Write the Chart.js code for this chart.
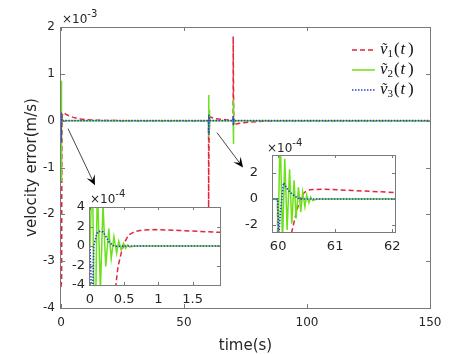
<!DOCTYPE html>
<html><head><meta charset="utf-8">
<script src="https://cdn.jsdelivr.net/npm/chart.js@4.4.0/dist/chart.umd.min.js"></script>
<style>
html,body{margin:0;padding:0;background:#fff;}
#wrap{position:relative;width:474px;height:355px;overflow:hidden;background:#fff;}
canvas{position:absolute;}
</style></head><body>
<div id="wrap">
<canvas id="main" width="474" height="355" style="left:0;top:0;width:474px;height:355px"></canvas>
<canvas id="in1" width="170" height="125" style="left:62px;top:185px;width:170px;height:125px"></canvas>
<canvas id="in2" width="167" height="122" style="left:238px;top:135px;width:167px;height:122px"></canvas>
</div>
<script>
// ---- data (velocity errors in units of 1e-4 m/s, time in s) ----
const v1T = [0,0.25,0.3,0.34,0.378,0.41,0.46,0.5,0.56,0.66,0.76,0.95,1.3,1.9,3,5,8,12,18,25,
  59.99,60.0,60.1,60.2,60.24,60.28,60.33,60.37,60.415,60.47,60.56,60.8,61.3,62.05,64,67,69.98,
  70.0,70.15,70.3,70.6,72,76,82,90,150];
const v1V = [-35.5,-34,-20,-9,-4,-2.1,-0.6,0.28,1.1,1.5,1.62,1.68,1.6,1.4,1.1,0.7,0.35,0.15,0.05,0,
  0,-18.5,-9,-3.5,-2.54,-1.77,-0.87,-0.23,0.28,0.54,0.72,0.76,0.66,0.5,0.35,0.2,0.1,
  18,4,-1,-0.8,-0.6,-0.35,-0.1,0,0];
const v2T = [0,0.035,0.07,0.107,0.152,0.19,0.23,0.275,0.31,0.35,0.39,0.42,0.456,0.49,0.52,0.55,0.58,0.65,
  59.99,60.0,60.035,60.076,60.117,60.158,60.2,60.24,60.28,60.315,60.357,60.398,60.43,60.47,60.5,60.54,60.57,60.61,60.68,
  69.99,70.03,70.07,70.11,70.15,70.2,70.25,70.35,70.5,150];
const v2V = [0,8.5,-13,6.5,-4.6,4.3,-2.1,1.8,-1.3,0.95,-0.75,0.5,-0.4,0.28,-0.25,0.1,-0.1,0,
  0,-3,5.5,-3.5,3.1,-2.4,2.3,-1.9,1.45,-1.5,0.9,-1.0,0.55,-0.6,0.3,-0.3,0.15,-0.12,0,
  0,4.5,-5,2.5,-2,1,-0.8,0.2,0,0];
const v3T = [0,0.02,0.04,0.055,0.1,0.13,0.19,0.23,0.28,0.34,0.4,0.5,
  59.99,60.01,60.04,60.093,60.18,60.27,60.35,60.45,
  69.99,70.02,70.06,70.12,70.3,150];
const v3V = [0,-4.5,-4.5,0,1.3,1.5,1.45,1.0,0.4,0.05,-0.05,0,
  0,-3,-1,1.25,0.65,0.3,0.05,0,
  0,1,-1,0.5,0,0];

const mainXTicks = [0,50,100,150];
const mainYTicks = [-4,-3,-2,-1,0,1,2];
const in1XTicks = [0,0.5,1,1.5];
const in1YTicks = [-4,-2,0,2,4];
const in2XTicks = [60,61,62];
const in2YTicks = [-2,0,2];
const legendSubs = ['1','2','3'];
const arrowFrom = [[2.85,-0.17],[63.4,-0.255]];
const arrowTo = [[13.8,-1.38],[74,-1.0]];

// ---- styles ----
const RED = '#e5243b', GREEN = '#6ce01a', BLUE = '#2a3fd6';
const TXT = '#262626', BOX = '#7a7a7a';
const SANS = '"DejaVu Sans", sans-serif';

function pts(T, V, s){ return T.map((t,i)=>({x:t, y:V[i]*s})); }
function datasets(s){
  return [
    {label:'v1', data:pts(v1T,v1V,s), borderColor:RED, borderDash:[5,3], borderWidth:1.5, order:2},
    {label:'v2', data:pts(v2T,v2V,s), borderColor:GREEN, borderWidth:1.5, order:1},
    {label:'v3', data:pts(v3T,v3V,s), borderColor:BLUE, borderDash:[1.5,1.5], borderWidth:1.6, order:0}
  ];
}
function scaleCfg(axis, min, max, ticks, size, pad, fontSize, title){
  const c = {
    type:'linear', min:min, max:max,
    afterBuildTicks: s => { s.ticks = ticks.map(v=>({value:v})); },
    afterFit: s => {
      if (axis==='x') s.height = size; else s.width = size;
      s.paddingLeft = s.paddingRight = s.paddingTop = s.paddingBottom = 0;
    },
    grid:{display:false, drawTicks:false, tickLength:0}, border:{display:false},
    ticks:{autoSkip:false, maxRotation:0, minRotation:0, padding:pad, color:TXT,
      font:{family:SANS, size:fontSize}, callback: v => String(v)}
  };
  if (title) c.title = title;
  return c;
}
function framePlugin(xt, yt, tl, fill, expo){
  return {
    id:'frame',
    beforeDraw(chart){
      if (!fill) return;
      const a = chart.chartArea, ctx = chart.ctx;
      ctx.save(); ctx.fillStyle = '#fff';
      ctx.fillRect(a.left, a.top, a.right-a.left, a.bottom-a.top);
      ctx.restore();
    },
    afterDraw(chart){
      const a = chart.chartArea, ctx = chart.ctx;
      const sx = chart.scales.x, sy = chart.scales.y;
      ctx.save();
      ctx.strokeStyle = BOX; ctx.lineWidth = 1;
      ctx.strokeRect(Math.round(a.left)-0.5, Math.round(a.top)+0.5,
        Math.round(a.right-a.left)+1, Math.round(a.bottom-a.top));
      ctx.beginPath();
      xt.forEach(v => { const p = Math.round(sx.getPixelForValue(v))+0.5;
        ctx.moveTo(p, a.bottom); ctx.lineTo(p, a.bottom-tl);
        ctx.moveTo(p, a.top); ctx.lineTo(p, a.top+tl); });
      yt.forEach(v => { const p = Math.round(sy.getPixelForValue(v))+0.5;
        ctx.moveTo(a.left, p); ctx.lineTo(a.left+tl, p);
        ctx.moveTo(a.right, p); ctx.lineTo(a.right-tl, p); });
      ctx.stroke();
      // exponent label
      ctx.fillStyle = TXT; ctx.textBaseline = 'alphabetic'; ctx.textAlign = 'left';
      ctx.font = expo.size + 'px ' + SANS;
      const bx = a.left + expo.dx, by = a.top + expo.dy;
      ctx.fillText('\u00d710', bx, by);
      const w = ctx.measureText('\u00d710').width;
      ctx.font = expo.sup + 'px ' + SANS;
      ctx.fillText(expo.text, bx + w, by - expo.rise);
      ctx.restore();
    }
  };
}
const arrowPlugin = {
  id:'arrows',
  afterDatasetsDraw(chart){
    const ctx = chart.ctx, sx = chart.scales.x, sy = chart.scales.y;
    ctx.save();
    arrowFrom.forEach((f,i) => {
      const x0 = sx.getPixelForValue(f[0]), y0 = sy.getPixelForValue(f[1]);
      const x1 = sx.getPixelForValue(arrowTo[i][0]), y1 = sy.getPixelForValue(arrowTo[i][1]);
      const ang = Math.atan2(y1-y0, x1-x0), L = 10, W = 4.5;
      ctx.strokeStyle = '#333'; ctx.lineWidth = 0.9;
      ctx.beginPath(); ctx.moveTo(x0,y0);
      ctx.lineTo(x1 - Math.cos(ang)*6, y1 - Math.sin(ang)*6); ctx.stroke();
      const bxp = x1 - Math.cos(ang)*L, byp = y1 - Math.sin(ang)*L;
      const nx = -Math.sin(ang), ny = Math.cos(ang);
      ctx.fillStyle = '#000';
      ctx.beginPath();
      ctx.moveTo(x1, y1);
      ctx.lineTo(bxp + nx*W, byp + ny*W);
      ctx.lineTo(x1 - Math.cos(ang)*L*0.6, y1 - Math.sin(ang)*L*0.6);
      ctx.lineTo(bxp - nx*W, byp - ny*W);
      ctx.closePath(); ctx.fill();
    });
    ctx.restore();
  }
};
const legendPlugin = {
  id:'mylegend',
  afterDraw(chart){
    const ctx = chart.ctx, a = chart.chartArea;
    ctx.save();
    chart.data.datasets.forEach((ds,i) => {
      const cy = a.top + 23 + i*20;
      ctx.strokeStyle = ds.borderColor; ctx.lineWidth = ds.borderWidth;
      ctx.setLineDash(ds.borderDash || []);
      ctx.beginPath(); ctx.moveTo(a.right-78, cy); ctx.lineTo(a.right-55, cy); ctx.stroke();
      ctx.setLineDash([]);
      ctx.fillStyle = '#111'; ctx.textBaseline = 'alphabetic'; ctx.textAlign = 'left';
      const x = a.right - 50, by = cy + 4;
      ctx.font = 'italic 17px "Liberation Serif", serif';
      ctx.fillText('v', x, by);
      const wv = ctx.measureText('v').width;
      ctx.font = '15px "Liberation Serif", serif';
      const wt = ctx.measureText('\u02dc').width;
      ctx.fillText('\u02dc', x + (wv-wt)/2 + 1, by - 1);
      ctx.font = '11px "Liberation Serif", serif';
      ctx.fillText(legendSubs[i], x + wv, by + 3);
      ctx.font = '17px "Liberation Serif", serif';
      ctx.fillText('(', x + 14, by);
      ctx.font = 'italic 17px "Liberation Serif", serif';
      ctx.fillText('t', x + 20.5, by);
      ctx.font = '17px "Liberation Serif", serif';
      ctx.fillText(')', x + 28, by);
    });
    ctx.restore();
  }
};
const common = {
  responsive:false, animation:false, devicePixelRatio:1,
  parsing:true, normalized:true,
  elements:{point:{radius:0, hoverRadius:0}, line:{tension:0, fill:false}},
  plugins:{legend:{display:false}, tooltip:{enabled:false}},
  events:[]
};

// ---- main chart ----
new Chart(document.getElementById('main'), {
  type:'line',
  data:{datasets:datasets(0.1)},
  options:Object.assign({}, common, {
    layout:{padding:{left:0, top:27, right:44, bottom:0}},
    scales:{
      x: scaleCfg('x', 0, 150, mainXTicks, 47, 8, 12,
        {display:true, text:'time(s)', color:TXT, font:{family:SANS, size:15}, padding:{top:0,bottom:0}}),
      y: scaleCfg('y', -4, 2, mainYTicks, 61, 6, 12,
        {display:true, text:'velocity error(m/s)', color:TXT, font:{family:SANS, size:15}, padding:{top:23,bottom:0}})
    }
  }),
  plugins:[framePlugin(mainXTicks, mainYTicks, 4, false, {size:12, sup:10, text:'-3', dx:1, dy:-4, rise:6}), arrowPlugin, legendPlugin]
});

// ---- inset 1 ----
new Chart(document.getElementById('in1'), {
  type:'line',
  data:{datasets:datasets(1)},
  options:Object.assign({}, common, {
    layout:{padding:{left:0, top:22, right:12, bottom:0}},
    scales:{
      x: scaleCfg('x', 0, 1.9, in1XTicks, 25, 7, 13),
      y: scaleCfg('y', -4, 4, in1YTicks, 28, 5, 13)
    }
  }),
  plugins:[framePlugin(in1XTicks, in1YTicks, 3, true, {size:12, sup:10, text:'-4', dx:0, dy:-4, rise:6})]
});

// ---- inset 2 ----
new Chart(document.getElementById('in2'), {
  type:'line',
  data:{datasets:datasets(1)},
  options:Object.assign({}, common, {
    layout:{padding:{left:0, top:20, right:10, bottom:0}},
    scales:{
      x: scaleCfg('x', 59.91, 62.05, in2XTicks, 25, 7, 13),
      y: scaleCfg('y', -2.55, 3.4, in2YTicks, 35, 15, 13)
    }
  }),
  plugins:[framePlugin(in2XTicks, in2YTicks, 3, true, {size:12, sup:10, text:'-4', dx:-6, dy:-3, rise:6})]
});
</script>
</body></html>
